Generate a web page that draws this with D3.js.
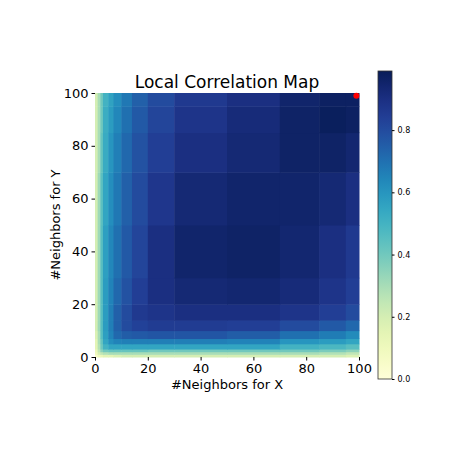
<!DOCTYPE html>
<html>
<head>
<meta charset="utf-8">
<script src="https://cdn.jsdelivr.net/npm/d3@7"></script>
<style>
body { margin: 0; background: #fff; }
text { font-family: "DejaVu Sans", sans-serif; }
</style>
</head>
<body>
<div id="vis"></div>
<script>
// bin edges (number of neighbors), shared by both axes
var binEdges = [0, 1, 2, 3, 5, 7, 10, 14, 20, 30, 50, 70, 85, 95, 100];
// local correlation, one row per y bin (bottom to top), one value per x bin
var corrRows = [
	[0.05, 0.10, 0.12, 0.15, 0.15, 0.18, 0.20, 0.20, 0.20, 0.20, 0.20, 0.20, 0.20, 0.18],
	[0.10, 0.20, 0.25, 0.28, 0.30, 0.30, 0.30, 0.30, 0.30, 0.30, 0.30, 0.30, 0.28, 0.25],
	[0.12, 0.25, 0.35, 0.40, 0.42, 0.42, 0.42, 0.42, 0.40, 0.40, 0.40, 0.40, 0.38, 0.35],
	[0.15, 0.28, 0.40, 0.50, 0.55, 0.55, 0.55, 0.55, 0.55, 0.55, 0.55, 0.50, 0.48, 0.45],
	[0.15, 0.30, 0.42, 0.55, 0.62, 0.65, 0.66, 0.66, 0.66, 0.66, 0.65, 0.60, 0.58, 0.55],
	[0.18, 0.30, 0.45, 0.57, 0.65, 0.72, 0.75, 0.76, 0.77, 0.77, 0.75, 0.70, 0.67, 0.63],
	[0.20, 0.32, 0.45, 0.58, 0.66, 0.74, 0.80, 0.83, 0.85, 0.85, 0.84, 0.80, 0.76, 0.72],
	[0.20, 0.32, 0.45, 0.58, 0.66, 0.74, 0.80, 0.86, 0.88, 0.90, 0.90, 0.88, 0.84, 0.80],
	[0.20, 0.32, 0.45, 0.58, 0.65, 0.72, 0.78, 0.84, 0.90, 0.93, 0.94, 0.92, 0.88, 0.84],
	[0.20, 0.32, 0.45, 0.57, 0.64, 0.70, 0.76, 0.82, 0.90, 0.95, 0.96, 0.94, 0.90, 0.86],
	[0.20, 0.32, 0.44, 0.55, 0.62, 0.68, 0.74, 0.80, 0.87, 0.93, 0.95, 0.95, 0.93, 0.90],
	[0.20, 0.30, 0.42, 0.53, 0.60, 0.66, 0.72, 0.78, 0.84, 0.90, 0.93, 0.96, 0.96, 0.94],
	[0.20, 0.30, 0.40, 0.52, 0.58, 0.64, 0.70, 0.76, 0.82, 0.88, 0.92, 0.96, 0.98, 0.97],
	[0.20, 0.30, 0.40, 0.50, 0.56, 0.62, 0.68, 0.74, 0.80, 0.86, 0.90, 0.95, 0.97, 0.97]
];
var optimalScale = [99, 99];
var axisTicks = [0, 20, 40, 60, 80, 100];
var colorTicks = [0.0, 0.2, 0.4, 0.6, 0.8];
var colorMax = 0.99;

var svg = d3.select('#vis').append('svg')
	.attr('width', 474)
	.attr('height', 474);

var x = d3.scaleLinear().domain([0, 100]).range([95, 359]);
var y = d3.scaleLinear().domain([0, 100]).range([357, 93]);
var color = d3.scaleSequential(d3.interpolateYlGnBu).domain([0, colorMax]);

// flatten rows into cells
var cells = [];
corrRows.forEach(function(row, j) {
	row.forEach(function(v, i) {
		cells.push({x0: binEdges[i], x1: binEdges[i + 1], y0: binEdges[j], y1: binEdges[j + 1], v: v});
	});
});

svg.append('g').selectAll('rect')
	.data(cells)
	.enter()
	.append('rect')
	.attr('x', function(d) { return x(d.x0); })
	.attr('y', function(d) { return y(d.y1); })
	.attr('width', function(d) { return x(d.x1) - x(d.x0) + 0.5; })
	.attr('height', function(d) { return y(d.y0) - y(d.y1) + 0.5; })
	.attr('fill', function(d) { return color(d.v); });

svg.append('circle')
	.attr('cx', x(optimalScale[0]))
	.attr('cy', y(optimalScale[1]))
	.attr('r', 3)
	.attr('fill', 'red');

var xAxis = svg.append('g')
	.attr('transform', 'translate(0,357)')
	.call(d3.axisBottom(x).tickValues(axisTicks).tickSizeOuter(0).tickSize(3.5));
var yAxis = svg.append('g')
	.attr('transform', 'translate(95,0)')
	.call(d3.axisLeft(y).tickValues(axisTicks).tickSizeOuter(0).tickSize(3.5));
[xAxis, yAxis].forEach(function(a) {
	a.select('.domain').remove();
	a.selectAll('text').style('font-size', '13px').attr('fill', '#000');
});

svg.append('text')
	.attr('x', 227).attr('y', 88)
	.attr('text-anchor', 'middle')
	.style('font-size', '17px')
	.text('Local Correlation Map');
svg.append('text')
	.attr('x', 227).attr('y', 389)
	.attr('text-anchor', 'middle')
	.style('font-size', '13px')
	.text('#Neighbors for X');
svg.append('text')
	.attr('transform', 'translate(60,225) rotate(-90)')
	.attr('text-anchor', 'middle')
	.style('font-size', '13px')
	.text('#Neighbors for Y');

// colorbar
var cb = d3.scaleLinear().domain([0, colorMax]).range([379, 71]);
var defs = svg.append('defs');
var grad = defs.append('linearGradient')
	.attr('id', 'cbgrad')
	.attr('x1', 0).attr('y1', 1).attr('x2', 0).attr('y2', 0);
d3.range(0, 1.001, 0.05).forEach(function(t) {
	grad.append('stop')
		.attr('offset', t)
		.attr('stop-color', color(t * colorMax));
});
svg.append('rect')
	.attr('x', 378).attr('y', 71)
	.attr('width', 14).attr('height', 308)
	.attr('fill', 'url(#cbgrad)')
	.attr('stroke', '#333')
	.attr('stroke-width', 0.8);
var cbAxis = svg.append('g')
	.attr('transform', 'translate(392,0)')
	.call(d3.axisRight(cb).tickValues(colorTicks).tickFormat(d3.format('.1f')).tickSize(2.5));
cbAxis.select('.domain').remove();
cbAxis.selectAll('text').style('font-size', '8px').attr('fill', '#000');
</script>
</body>
</html>
